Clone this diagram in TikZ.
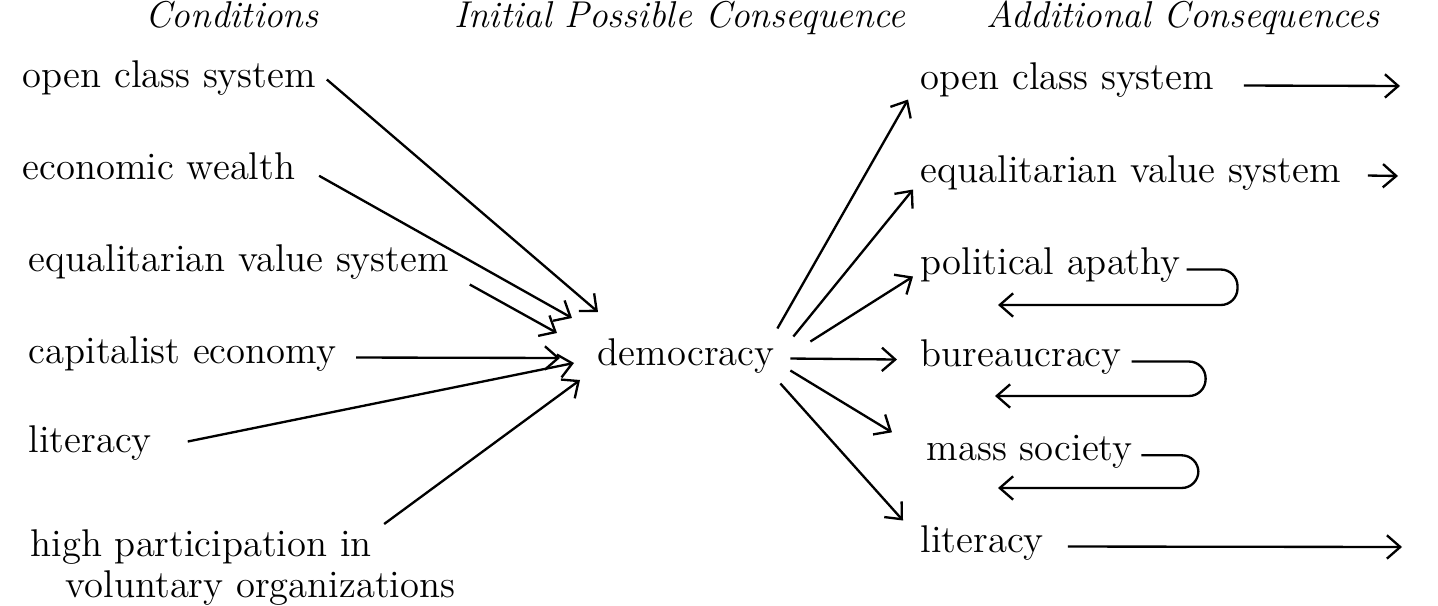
\documentclass[tikz,border=0pt]{standalone}
\usetikzlibrary{arrows.meta,positioning}

\begin{document}
\begin{tikzpicture}[x=0.3pt, y=-0.3pt, >={Straight Barb[length=4pt,width=7pt]},
        font=\fontsize{11.6}{12.3}\selectfont, line width=0.7pt]
        \tikzset{
            item/.style={anchor=base west, inner sep=2pt},
            head/.style={anchor=base, inner sep=0pt, font=\fontsize{11.2}{12.3}\selectfont\itshape},
            loop/.style={->, rounded corners=5pt}
        }
        \useasboundingbox (0,0) rectangle (1438,606);

        % column headings
        \node[head] (hcond) at (232,28) {Conditions};
        \node[head] (hinit) at (680,28) {Initial Possible Consequence};
        \node[head] (hadd)  at (1183,28) {Additional Consequences};

        % conditions
        \node[item] (c1) at (15,88)  {open class system};
        \node[item] (c2) at (15,180) {economic wealth};
        \node[item] (c3) at (21,272) {equalitarian value system};
        \node[item] (c4) at (21,364) {capitalist economy};
        \node[item] (c5) at (21,452) {literacy};
        \node[item, anchor=north west, align=left] (c6) at (23,522)
            {high participation in\\\hspace{10.5pt}voluntary organizations};

        % initial consequence
        \node[item] (dem) at (590,366) {democracy};

        % additional consequences
        \node[item] (r1) at (913,90)  {open class system};
        \node[item] (r2) at (913,183) {equalitarian value system};
        \node[item] (r3) at (913,275) {political apathy};
        \node[item] (r4) at (913,367) {bureaucracy};
        \node[item] (r5) at (919,460) {mass society};
        \node[item] (r6) at (913,552) {literacy};

        % arrow tips round democracy
        \coordinate (in1) at (598,312);
        \coordinate (in2) at (572,318);
        \coordinate (in3) at (557,333);
        \coordinate (in4) at (560,358);
        \coordinate (in5) at (574,363);
        \coordinate (in6) at (580,380);

        \draw[->] ([shift={(3,1)}]c1.east) -- (in1);
        \draw[->] ([shift={(16,9)}]c2.east) -- (in2);
        \draw[->] ([shift={(13,22)}]c3.east) -- (in3);
        \draw[->] ([shift={(12,3)}]c4.east) -- (in4);
        \draw[->] ([shift={(28,-1)}]c5.east) -- (in5);
        \draw[->] ([shift={(-79,2)}]c6.north east) -- (in6);

        \draw[->] ([shift={(-5,-28)}]dem.east) -- ([shift={(-5,19)}]r1.west);
        \draw[->] ([shift={(11,-20)}]dem.east) -- ([shift={(0,16)}]r2.west);
        \draw[->] ([shift={(28,-15)}]dem.east) -- ([shift={(0,11)}]r3.west);
        \draw[->] ([shift={(8,2)}]dem.east) -- ([shift={(-16,2)}]r4.west);
        \draw[->] ([shift={(8,14)}]dem.east) -- ([shift={(-27,-19)}]r5.west);
        \draw[->] ([shift={(-2,27)}]dem.east) -- ([shift={(-10,-22)}]r6.west);

        % onward arrows
        \coordinate (e1) at (1400,86);
        \coordinate (e2) at (1398,176);
        \coordinate (e6) at (1402,547);
        \draw[->] ([shift={(22,5)}]r1.east) -- (e1);
        \draw[->] ([shift={(19,2)}]r2.east) -- (e2);
        \draw[->] ([shift={(16,4)}]r6.east) -- (e6);

        % feedback loops
        \coordinate (b3) at (998,305);
        \coordinate (b4) at (995,396);
        \coordinate (b5) at (998,488);
        \draw[loop] ([shift={(-2,4)}]r3.east) -- ++(51,0) |- (b3);
        \draw[loop] ([shift={(2,4)}]r4.east) -- ++(74,0) |- (b4);
        \draw[loop] ([shift={(1,4)}]r5.east) -- ++(57,0) |- (b5);
    \end{tikzpicture}
\end{document}
